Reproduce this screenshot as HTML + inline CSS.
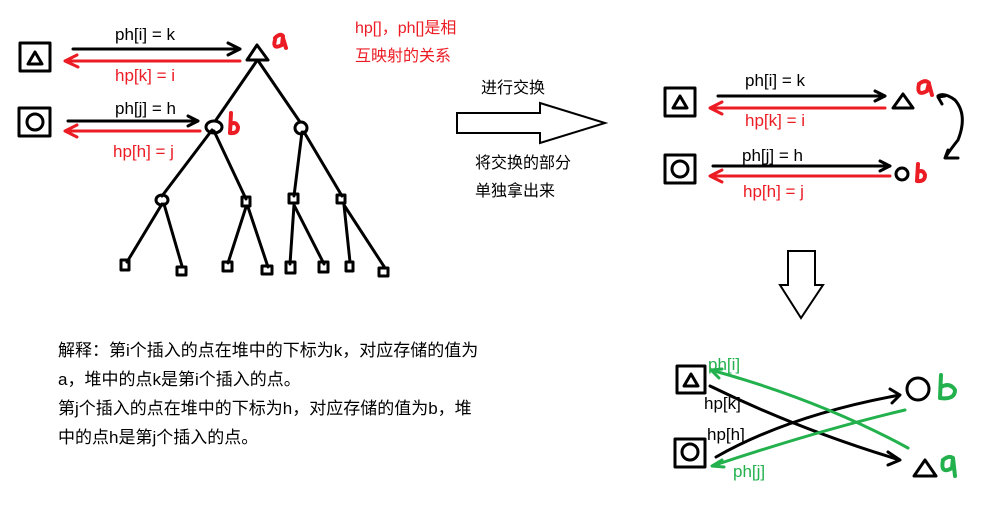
<!DOCTYPE html><html><head><meta charset="utf-8"><style>body{margin:0;background:#fff}svg{display:block}text{font-family:"Liberation Sans","Noto Sans CJK SC",sans-serif;font-size:17px}</style></head><body>
<svg width="1008" height="514" viewBox="0 0 1008 514">
<g fill="none" stroke="#000" stroke-width="3" stroke-linecap="round" stroke-linejoin="round">
<rect x="20" y="43" width="30" height="28"/><path d="M28 64 L35 52 L42 64 Z"/>
<rect x="19" y="108" width="31" height="28"/><circle cx="35" cy="122" r="8"/>
<path d="M73 49 L240 49 M228 43 L240 49 L228 55"/>
<path d="M247 60 L257 45 L268 60 Z"/>
<path d="M68 121 L198 121 M188 116 L198 121 L188 126"/>
<path d="M256 62 L216 120 M259 62 L300 122 M212 130 L162 196 M214 131 L246 199 M302 132 L294 196 M304 132 L342 196 M162 204 L127 262 M164 204 L182 266 M246 207 L228 263 M248 207 L268 267 M294 205 L290 264 M294 205 L324 264 M344 205 L350 262 M344 205 L385 268"/>
<ellipse cx="214" cy="127" rx="8" ry="6"/><ellipse cx="301" cy="128" rx="6" ry="6"/>
<ellipse cx="162" cy="200" rx="6" ry="5"/><rect x="242" y="197" width="8" height="9"/><rect x="289" y="194" width="9" height="9"/><rect x="337" y="195" width="8" height="8"/>
<rect x="121" y="260" width="8" height="10"/><rect x="177" y="267" width="9" height="8"/><rect x="223" y="262" width="9" height="9"/><rect x="262" y="266" width="10" height="8"/><rect x="286" y="262" width="9" height="11"/><rect x="319" y="262" width="9" height="10"/><rect x="346" y="262" width="7" height="9"/><rect x="379" y="268" width="9" height="8"/>
</g>
<g fill="none" stroke="#ec1c24" stroke-width="3" stroke-linecap="round" stroke-linejoin="round">
<path d="M240 61 L65 61 M77 55 L65 61 L78 67"/>
<path d="M200 131 L65 131 M77 125 L65 131 L77 137"/>
<path d="M275 40 Q272 50 282 45 L283 36 Q280 33 275 38 M283 38 L286 48" stroke-width="4"/>
<path d="M231 113 L230 133 Q238 134 238 127 Q236 121 231 124" stroke-width="4"/>
<path d="M919 84 Q916 97 927 91 L929 83 Q925 79 919 84 M929 84 L932 95" stroke-width="4"/>
<path d="M918 164 L917 181 Q925 182 925 175 Q923 169 918 172" stroke-width="4"/>
<path d="M885 108 L710 108 M722 102 L710 108 L722 114"/>
<path d="M890 176 L710 176 M722 170 L710 176 L722 182"/>
</g>
<text x="115" y="40">ph[i] = k</text><text x="115" y="81" fill="#ec1c24">hp[k] = i</text>
<text x="115" y="114">ph[j] = h</text><text x="113" y="157" fill="#ec1c24">hp[h] = j</text>
<text x="355" y="33" fill="#ec1c24" style="font-size:16px">hp[]，ph[]是相</text><text x="355" y="61" fill="#ec1c24" style="font-size:16px">互映射的关系</text>
<text x="481" y="93" style="font-size:16px">进行交换</text>
<path d="M457 113 L540 113 L540 103 L605 123 L540 143 L540 133 L457 133 Z" fill="none" stroke="#000" stroke-width="2"/>
<text x="475" y="168" style="font-size:16px">将交换的部分</text><text x="475" y="196" style="font-size:16px">单独拿出来</text>
<g fill="none" stroke="#000" stroke-width="3" stroke-linecap="round" stroke-linejoin="round">
<rect x="665" y="88" width="30" height="28"/><path d="M673 108 L680 96 L687 108 Z"/>
<rect x="665" y="155" width="30" height="28"/><circle cx="680" cy="169" r="8"/>
<path d="M718 96 L885 96 M875 91 L885 96 L875 101"/>
<path d="M893 108 L903 94 L913 108 Z"/>
<path d="M713 166 L890 166 M880 161 L890 166 L880 171"/>
<circle cx="902" cy="174" r="6"/>
<path d="M938 96 Q944 92 955 100 Q968 115 958 140 Q950 150 945 158 L958 158 M945 158 L948 150"/>
<path d="M945 96 L938 97 L942 104"/>
<rect x="677" y="366" width="28" height="27"/><path d="M684 386 L691 374 L698 386 Z"/>
<rect x="675" y="439" width="30" height="28"/><circle cx="690" cy="452" r="8"/>
<circle cx="918" cy="389" r="11"/>
<path d="M914 476 L925 460 L936 476 Z"/>
<path d="M710 386 Q800 430 900 460 M888 452 L900 460 L888 465"/>
<path d="M716 457 Q790 415 900 395 M890 389 L900 395 L892 403"/>
</g>
<g fill="none" stroke="#22b14c" stroke-width="3" stroke-linecap="round" stroke-linejoin="round">
<path d="M908 448 Q820 400 711 370 M722 369 L711 370 L719 378"/>
<path d="M905 410 Q820 430 712 466 M722 460 L712 466 L724 467"/>
<path d="M943 460 Q940 475 952 468 L953 458 Q949 455 943 460 M953 458 L955 476" stroke-width="4"/>
<path d="M941 375 L940 398 Q955 400 955 390 Q950 382 941 387" stroke-width="4"/>
</g>
<text x="708" y="370" fill="#22b14c">ph[i]</text><text x="704" y="409">hp[k]</text>
<text x="707" y="440">hp[h]</text><text x="733" y="477" fill="#22b14c">ph[j]</text>
<text x="745" y="86">ph[i] = k</text><text x="745" y="126" fill="#ec1c24">hp[k] = i</text>
<text x="742" y="161">ph[j] = h</text><text x="743" y="197" fill="#ec1c24">hp[h] = j</text>
<path d="M788 251 L815 251 L815 285 L823 285 L801 318 L780 285 L788 285 Z" fill="none" stroke="#000" stroke-width="2"/>
<g style="font-size:17.5px">
<text x="58" y="356">解释：第i个插入的点在堆中的下标为k，对应存储的值为</text>
<text x="58" y="385">a，堆中的点k是第i个插入的点。</text>
<text x="58" y="414">第j个插入的点在堆中的下标为h，对应存储的值为b，堆</text>
<text x="58" y="443">中的点h是第j个插入的点。</text>
</g>
</svg></body></html>
